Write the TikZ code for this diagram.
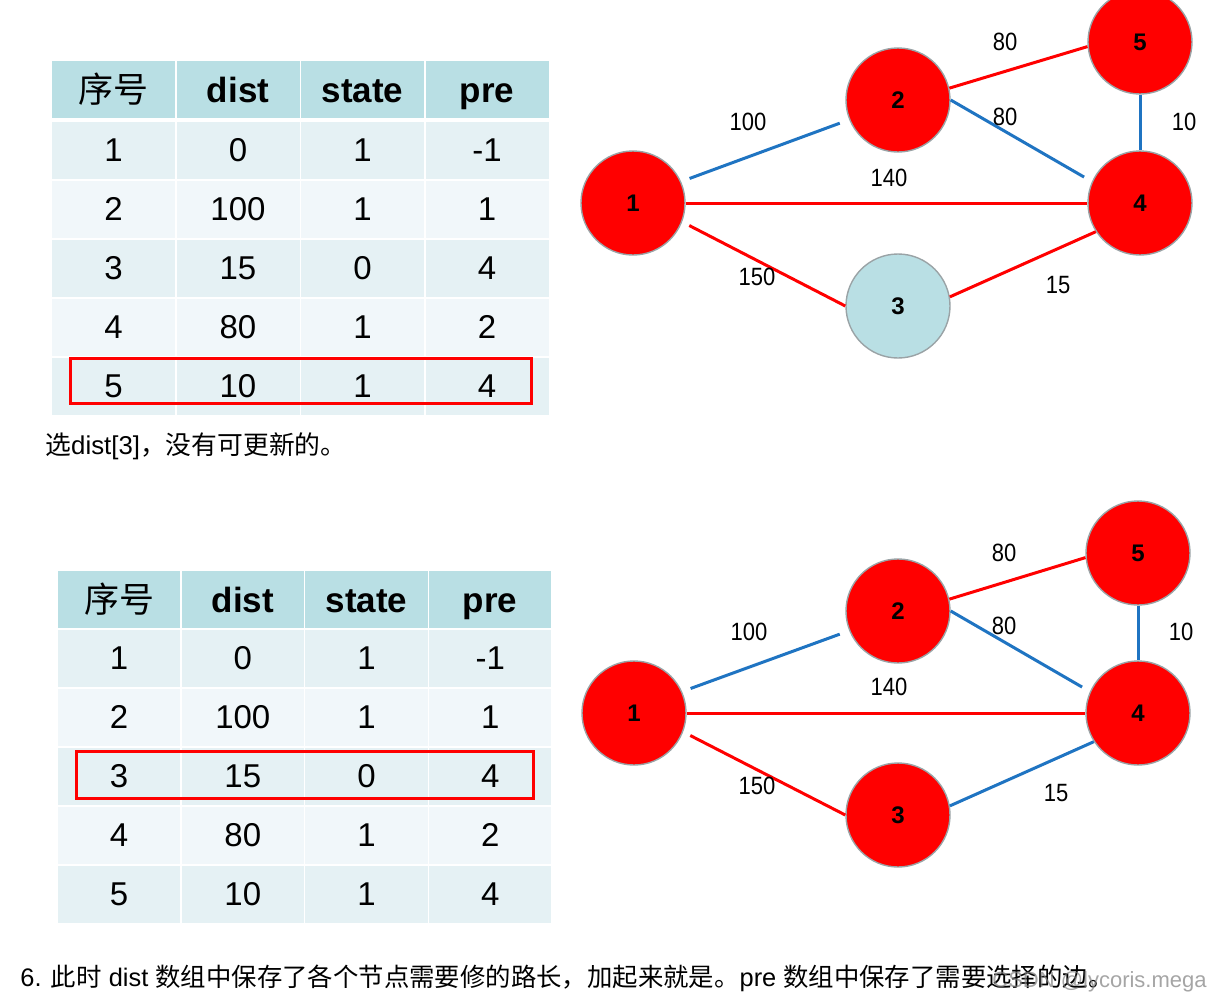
\documentclass[tikz,border=0pt]{standalone}
\usepackage{fontspec}
\setmainfont{Liberation Sans}
\newfontfamily\cjk{Noto Sans CJK SC}
\newfontfamily\narrow[FakeStretch=0.88]{Liberation Sans}
\usepackage{tikz}
\usetikzlibrary{positioning}
\definecolor{headteal}{HTML}{B9DFE4}
\definecolor{rowdark}{HTML}{E5F1F4}
\definecolor{rowlight}{HTML}{F1F7FA}
\definecolor{nodered}{HTML}{FF0000}
\definecolor{edgeblue}{HTML}{1F74C2}
\definecolor{ringgray}{HTML}{9AA3A6}

\begin{document}
\begin{tikzpicture}[
    x=0.5pt,y=-0.5pt,
    node distance=1pt and 0.75pt,
    cell/.style={minimum width=61.5pt,minimum height=28.5pt,inner sep=0pt,outer sep=0pt,
                 text height=11.8pt,text depth=0pt,font=\fontsize{16.5}{18}\selectfont},
    head/.style={cell,fill=headteal,text height=12.6pt,
                 font=\fontsize{17.5}{19}\selectfont\bfseries},
    dark/.style={cell,fill=rowdark},
    light/.style={cell,fill=rowlight},
    hilite/.style={draw=nodered,line width=1.5pt},
    vtx/.style={circle,draw=ringgray,line width=0.7pt,fill=nodered,minimum size=52pt,
                inner sep=0pt,font=\fontsize{12}{14}\selectfont\bfseries},
    vtxopen/.style={vtx,fill=headteal},
    redge/.style={draw=nodered,line width=1.5pt},
    bedge/.style={draw=edgeblue,line width=1.5pt},
    wlab/.style={inner sep=0pt,font=\narrow\fontsize{12.5}{14}\selectfont},
    note/.style={inner sep=0pt,anchor=west},
    wmark/.style={inner sep=0pt,anchor=west,text=gray,opacity=0.7,
                  font=\fontsize{11}{13}\selectfont}
]
\path[use as bounding box,fill=white] (0,0) rectangle (1211,1002);
\clip (0,0) rectangle (1211,1002);

% upper table
\node[head,anchor=north west] (uh1) at (52,61) {\cjk\mdseries 序号};
\node[head,right=of uh1] (uh2) {dist};
\node[head,right=of uh2] (uh3) {state};
\node[head,right=of uh3] (uh4) {pre};
\node[dark,below=1.75pt of uh1] (u11) {1}; \node[dark,right=of u11] (u12) {0};
\node[dark,right=of u12] (u13) {1}; \node[dark,right=of u13] (u14) {-1};
\node[light,below=of u11] (u21) {2}; \node[light,right=of u21] (u22) {100};
\node[light,right=of u22] (u23) {1}; \node[light,right=of u23] (u24) {1};
\node[dark,below=of u21] (u31) {3}; \node[dark,right=of u31] (u32) {15};
\node[dark,right=of u32] (u33) {0}; \node[dark,right=of u33] (u34) {4};
\node[light,below=of u31] (u41) {4}; \node[light,right=of u41] (u42) {80};
\node[light,right=of u42] (u43) {1}; \node[light,right=of u43] (u44) {2};
\node[dark,below=of u41] (u51) {5}; \node[dark,right=of u51] (u52) {10};
\node[dark,right=of u52] (u53) {1}; \node[dark,right=of u53] (u54) {4};
\draw[hilite] (70.5,358.5) rectangle (531.5,403.5);
\node[note,font=\fontsize{12.9}{15}\selectfont] (ucap) at (45,446)
    {{\cjk 选}dist[3]{\cjk ，没有可更新的。}};

% upper graph
\node[vtx] (gu1) at (633,203) {1};
\node[vtx] (gu2) at (898,100) {2};
\node[vtxopen] (gu3) at (898,306) {3};
\node[vtx] (gu4) at (1140,203) {4};
\node[vtx] (gu5) at (1140,42) {5};
\draw[bedge,shorten <=4.5pt,shorten >=5pt] (gu1.24) -- (gu2.202);
\draw[redge] (gu1.east) -- (gu4.west);
\draw[redge,shorten <=4pt] (gu1.-21) -- (gu3.west);
\draw[redge] (gu3.10) -- (gu4.213);
\draw[bedge,shorten >=4.5pt] (gu2.east) -- (gu4.156);
\draw[redge] (gu2.13) -- (gu5.185);
\draw[bedge] (gu5.south) -- (gu4.north);
\node[wlab] (wu25) at (1005,42) {80};
\node[wlab] (wu12) at (748,122) {100};
\node[wlab] (wu24) at (1005,117) {80};
\node[wlab] (wu54) at (1184,122) {10};
\node[wlab] (wu14) at (889,178) {140};
\node[wlab] (wu13) at (757,277) {150};
\node[wlab] (wu34) at (1058,285) {15};

% lower table
\begin{scope}[cell/.append style={minimum width=61.1pt}]
\node[head,anchor=north west] (lh1) at (58,571) {\cjk\mdseries 序号};
\node[head,right=of lh1] (lh2) {dist};
\node[head,right=of lh2] (lh3) {state};
\node[head,right=of lh3] (lh4) {pre};
\node[dark,below=0.75pt of lh1] (l11) {1}; \node[dark,right=of l11] (l12) {0};
\node[dark,right=of l12] (l13) {1}; \node[dark,right=of l13] (l14) {-1};
\node[light,below=of l11] (l21) {2}; \node[light,right=of l21] (l22) {100};
\node[light,right=of l22] (l23) {1}; \node[light,right=of l23] (l24) {1};
\node[dark,below=of l21] (l31) {3}; \node[dark,right=of l31] (l32) {15};
\node[dark,right=of l32] (l33) {0}; \node[dark,right=of l33] (l34) {4};
\node[light,below=of l31] (l41) {4}; \node[light,right=of l41] (l42) {80};
\node[light,right=of l42] (l43) {1}; \node[light,right=of l43] (l44) {2};
\node[dark,below=of l41] (l51) {5}; \node[dark,right=of l51] (l52) {10};
\node[dark,right=of l52] (l53) {1}; \node[dark,right=of l53] (l54) {4};
\end{scope}
\draw[hilite] (76.5,751.5) rectangle (533.5,798.5);

% lower graph
\node[vtx] (gl1) at (634,713) {1};
\node[vtx] (gl2) at (898,611) {2};
\node[vtx] (gl3) at (898,815) {3};
\node[vtx] (gl4) at (1138,713) {4};
\node[vtx] (gl5) at (1138,553) {5};
\draw[bedge,shorten <=4.5pt,shorten >=5pt] (gl1.24) -- (gl2.202);
\draw[redge] (gl1.east) -- (gl4.west);
\draw[redge,shorten <=4pt] (gl1.-21) -- (gl3.west);
\draw[bedge] (gl3.10) -- (gl4.213);
\draw[bedge,shorten >=4.5pt] (gl2.east) -- (gl4.156);
\draw[redge] (gl2.13) -- (gl5.185);
\draw[bedge] (gl5.south) -- (gl4.north);
\node[wlab] (wl25) at (1004,553) {80};
\node[wlab] (wl12) at (749,632) {100};
\node[wlab] (wl24) at (1004,626) {80};
\node[wlab] (wl54) at (1181,632) {10};
\node[wlab] (wl14) at (889,687) {140};
\node[wlab] (wl13) at (757,786) {150};
\node[wlab] (wl34) at (1056,793) {15};

\node[note,font=\fontsize{12.7}{15}\selectfont] (lcap) at (20,978)
    {6. {\cjk 此时} dist {\cjk 数组中保存了各个节点需要修的路长，加起来就是。}pre {\cjk 数组中保存了需要选择的边。}};
\node[wmark] (wm) at (992,982) {CSDN @lycoris.mega};
\end{tikzpicture}
\end{document}
